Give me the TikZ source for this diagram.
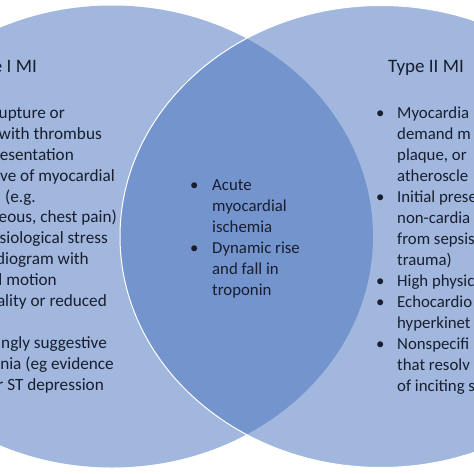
\documentclass[tikz,border=0pt]{standalone}
\usepackage{fontspec}
\setmainfont{Carlito}
\usepackage{tikz}
\usetikzlibrary{positioning}
\definecolor{vennlight}{RGB}{161,183,222}
\definecolor{venndark}{RGB}{116,148,206}
\definecolor{venntext}{RGB}{24,30,46}
\tikzstyle{txt} = [inner sep=0pt, text=venntext, font=\fontsize{16.8}{21}\selectfont]
\tikzstyle{frag} = [inner sep=0pt, text=venntext, font=\fontsize{17.2}{21}\selectfont, anchor=base east]
\tikzstyle{ttl} = [inner sep=0pt, text=venntext, font=\fontsize{19}{22}\selectfont]

\begin{document}
\begin{tikzpicture}[x=1pt, y=-1pt]
  \useasboundingbox (0,0) rectangle (474,474);
  \clip (0,0) rectangle (474,474);

  % Circles
  \fill[vennlight] (112,236.5) ellipse [x radius=261, y radius=231];
  \fill[vennlight] (381,236.5) ellipse [x radius=261, y radius=231];
  \begin{scope}
    \clip (112,236.5) ellipse [x radius=261, y radius=231];
    \fill[venndark] (381,236.5) ellipse [x radius=261, y radius=231];
  \end{scope}
  \draw[white, line width=1pt] (381,236.5) ellipse [x radius=261, y radius=231];

  % Type I MI
  \node (titleone) [ttl, anchor=base east] at (37,72) {e I MI};
  \node (l1) [frag] at (65,118) {upture or};
  \node (l2) [frag] at (102,139) {with thrombus};
  \node (l3) [frag] at (74,160) {esentation};
  \node (l4) [frag] at (115,181) {ve of myocardial};
  \node (l5) [frag] at (36,202) {a (e.g.};
  \node (l6) [frag] at (117,222) {eous, chest pain)};
  \node (l7) [frag] at (108,243) {siological stress};
  \node (l8) [frag] at (89,264) {diogram with};
  \node (l9) [frag] at (57,285) {l motion};
  \node (l10) [frag] at (107,306) {ality or reduced};
  \node (l11) [frag] at (107,348) {ngly suggestive};
  \node (l12) [frag] at (114,369) {nia (eg evidence};
  \node (l13) [frag] at (104,390) {r ST depression};

  % Shared
  \node (shared) [txt, anchor=base west] at (190,190) {\begin{tabular}[t]{@{}p{22pt}@{}l@{}}
    \textbullet & Acute\\
    & myocardial\\
    & ischemia\\
    \textbullet & Dynamic rise\\
    & and fall in\\
    & troponin
  \end{tabular}};

  % Type II MI
  \node (titletwo) [ttl, anchor=base west] at (388,72) {Type II MI};
  \node (typetwo) [txt, anchor=base west] at (376,118) {\begin{tabular}[t]{@{}p{21pt}@{}l@{}}
    \textbullet & Myocardia\\
    & demand m\\
    & plaque, or\\
    & atheroscle\\
    \textbullet & Initial prese\\
    & non-cardia\\
    & from sepsis\\
    & trauma)\\
    \textbullet & High physic\\
    \textbullet & Echocardio\\
    & hyperkinet\\
    \textbullet & Nonspecifi\\
    & that resolv\\
    & of inciting s
  \end{tabular}};

\end{tikzpicture}
\end{document}
